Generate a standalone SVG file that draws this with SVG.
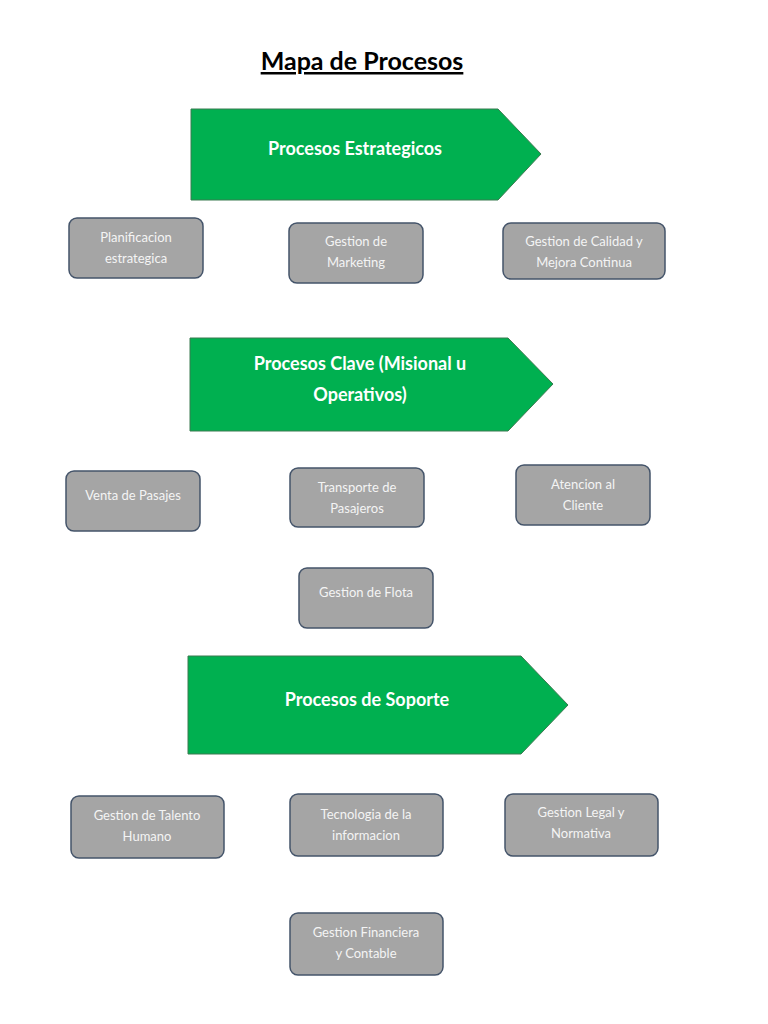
<svg xmlns="http://www.w3.org/2000/svg" width="768" height="1024" viewBox="0 0 768 1024">
<style>
.t{font-family:Lato,"Open Sans",sans-serif;}
.h{font-size:18px;font-weight:bold;fill:#fff;text-anchor:middle}
.b rect{fill:#a5a5a5;stroke:#44546a;stroke-width:1.5}
.b text{font-size:13px;fill:#f4f4f4;text-anchor:middle}
.a{fill:#00b050;stroke:#3b7a50;stroke-width:1}
</style>
<rect width="768" height="1024" fill="#fff"/>
<text class="t" x="362" y="70" font-size="25" font-weight="bold" text-anchor="middle" fill="#000" text-decoration="underline">Mapa de Procesos</text>
<g id="n1"><polygon class="a" points="191,109 498,109 541,154 498,200 191,200"/><text class="t h" x="355" y="155">Procesos Estrategicos</text></g>
<g id="n2"><polygon class="a" points="190,338 508,338 553,384 508,431 190,431"/><text class="t h" x="360" y="370">Procesos Clave (Misional u</text><text class="t h" x="360" y="401">Operativos)</text></g>
<g id="n3"><polygon class="a" points="188,656 521,656 568,705 521,754 188,754"/><text class="t h" x="367" y="706">Procesos de Soporte</text></g>
<g id="b1" class="b t"><rect x="69" y="218" width="134" height="60" rx="8"/><text x="136" y="242">Planificacion</text><text x="136" y="263">estrategica</text></g>
<g id="b2" class="b t"><rect x="289" y="223" width="134" height="60" rx="8"/><text x="356" y="246">Gestion de</text><text x="356" y="267">Marketing</text></g>
<g id="b3" class="b t"><rect x="503" y="223" width="162" height="56" rx="8"/><text x="584" y="246">Gestion de Calidad y</text><text x="584" y="267">Mejora Continua</text></g>
<g id="b4" class="b t"><rect x="66" y="471" width="134" height="60" rx="8"/><text x="133" y="500">Venta de Pasajes</text></g>
<g id="b5" class="b t"><rect x="290" y="468" width="134" height="59" rx="8"/><text x="357" y="492">Transporte de</text><text x="357" y="513">Pasajeros</text></g>
<g id="b6" class="b t"><rect x="516" y="465" width="134" height="60" rx="8"/><text x="583" y="489">Atencion al</text><text x="583" y="510">Cliente</text></g>
<g id="b7" class="b t"><rect x="299" y="568" width="134" height="60" rx="8"/><text x="366" y="597">Gestion de Flota</text></g>
<g id="b8" class="b t"><rect x="71" y="796" width="153" height="62" rx="8"/><text x="147" y="820">Gestion de Talento</text><text x="147" y="841">Humano</text></g>
<g id="b9" class="b t"><rect x="290" y="794" width="153" height="62" rx="8"/><text x="366" y="819">Tecnologia de la</text><text x="366" y="840">informacion</text></g>
<g id="b10" class="b t"><rect x="505" y="794" width="153" height="62" rx="8"/><text x="581" y="817">Gestion Legal y</text><text x="581" y="838">Normativa</text></g>
<g id="b11" class="b t"><rect x="290" y="913" width="153" height="62" rx="8"/><text x="366" y="937">Gestion Financiera</text><text x="366" y="958">y Contable</text></g>
<g id="connectors"/>
</svg>
